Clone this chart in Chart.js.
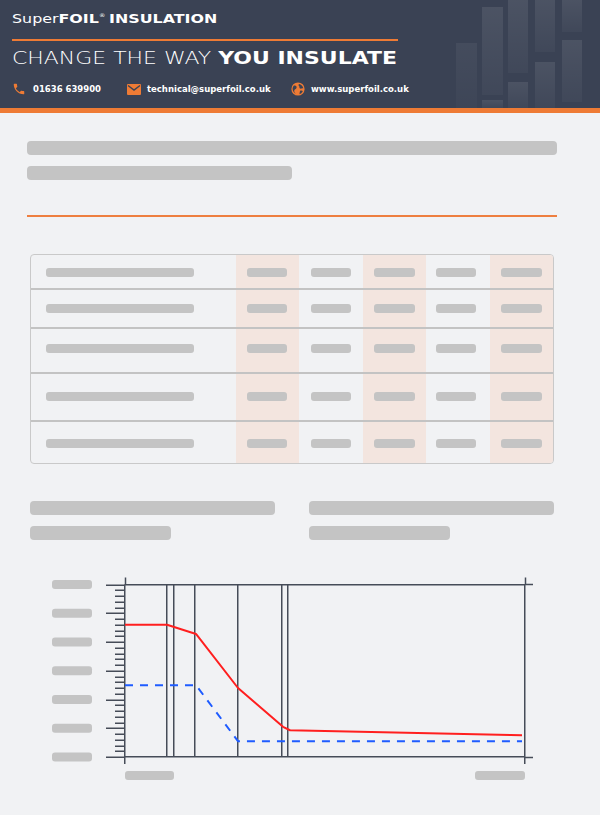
<!DOCTYPE html>
<html>
<head>
<meta charset="utf-8">
<script src="https://cdn.jsdelivr.net/npm/chart.js@4.4.0/dist/chart.umd.min.js"></script>
<style>
  html, body { margin: 0; padding: 0; }
  body {
    width: 600px; height: 815px; overflow: hidden; position: relative;
    background: #f1f2f4; font-family: "DejaVu Sans", sans-serif;
  }
  .header { position: absolute; left: 0; top: 0; width: 600px; height: 108px; background: #3a4254; overflow: hidden; }
  .stripe { position: absolute; left: 0; top: 108px; width: 600px; height: 5px; background: #ee7b35; }
  .deco { position: absolute; background: linear-gradient(rgba(255,255,255,0.09), rgba(255,255,255,0.03)); }
  .logo { position: absolute; left: 12px; top: 11px; color: #fff; font-size: 12.5px; white-space: nowrap; transform: scaleX(1.27); transform-origin: left top; }
  .logo .light { font-weight: 400; }
  .logo .bold { font-weight: 700; }
  .logo sup { font-size: 5px; vertical-align: 6px; margin-right: 3px; }
  .rule { position: absolute; left: 12px; top: 39px; width: 386px; height: 1.5px; background: #ee7b35; }
  .tagline { position: absolute; left: 12px; top: 47px; color: #fff; font-size: 18px; white-space: nowrap; transform: scaleX(1.22); transform-origin: left top; }
  .tagline .thin { font-weight: 200; }
  .tagline .heavy { font-weight: 700; }
  .contact { position: absolute; top: 83.5px; color: #fff; font-size: 8.5px; font-weight: 700; white-space: nowrap; }
  .icon { position: absolute; }
  .pill { position: absolute; background: #c4c4c4; border-radius: 4px; }
  .orange-line { position: absolute; left: 27px; top: 215px; width: 530px; height: 2px; background: #ee7f40; }
  .table { position: absolute; left: 30px; top: 254px; width: 522px; height: 208px; border: 1.5px solid #c9c9c9; border-radius: 4px; overflow: hidden; }
  .shade { position: absolute; top: 0; height: 100%; background: #f3e5df; }
  .row-line { position: absolute; left: 0; width: 100%; height: 1.5px; background: #c3c3c3; }
  .chart-box { position: absolute; left: 30px; top: 565px; width: 520px; height: 225px; }
</style>
</head>
<body>
<div class="header">
  <div class="deco" style="left:456px;top:43px;width:21px;height:65px;opacity:0.6"></div>
  <div class="deco" style="left:482px;top:7px;width:21px;height:88px"></div>
  <div class="deco" style="left:482px;top:100px;width:21px;height:8px"></div>
  <div class="deco" style="left:508px;top:0;width:20px;height:73px"></div>
  <div class="deco" style="left:508px;top:82px;width:20px;height:26px"></div>
  <div class="deco" style="left:535px;top:0;width:20px;height:52px"></div>
  <div class="deco" style="left:535px;top:62px;width:20px;height:46px"></div>
  <div class="deco" style="left:562px;top:0;width:20px;height:32px"></div>
  <div class="deco" style="left:562px;top:40px;width:20px;height:62px"></div>

  <div class="logo"><span class="light">Super</span><span class="bold">FOIL</span><sup>®</sup><span class="bold">INSULATION</span></div>
  <div class="rule"></div>
  <div class="tagline"><span class="thin">CHANGE THE WAY </span><span class="heavy">YOU INSULATE</span></div>

  <svg class="icon" style="left:12px;top:82px" width="14" height="14" viewBox="0 0 24 24">
    <path fill="#ee7b35" d="M6.6 10.8c1.4 2.8 3.8 5.1 6.6 6.6l2.2-2.2c.3-.3.7-.4 1-.2 1.1.4 2.3.6 3.6.6.6 0 1 .4 1 1V20c0 .6-.4 1-1 1C10.6 21 3 13.4 3 4c0-.6.4-1 1-1h3.5c.6 0 1 .4 1 1 0 1.3.2 2.5.6 3.6.1.3 0 .7-.2 1l-2.3 2.2z"/>
  </svg>
  <div class="contact" style="left:33px">01636 639900</div>

  <svg class="icon" style="left:127px;top:84px" width="14" height="11" viewBox="0 0 14 11">
    <rect x="0" y="0" width="14" height="11" rx="1" fill="#ee7b35"/>
    <path d="M1 1.5 L7 6 L13 1.5" stroke="#3a4254" stroke-width="1.4" fill="none"/>
  </svg>
  <div class="contact" style="left:147px">technical@superfoil.co.uk</div>

  <svg class="icon" style="left:291px;top:82px" width="14" height="14" viewBox="0 0 14 14">
    <circle cx="7" cy="7" r="6.6" fill="#ee7b35"/>
    <path d="M3 3.5 C5 3 6 4.5 5.5 6 C5 7.5 3.5 7 3.2 8.8 C3 10 4 11 5 11.6 C3 11 1.5 9 1.6 6.5 C1.8 5 2.3 4.2 3 3.5 Z" fill="#3a4254"/>
    <path d="M8 2 C10 2.5 12 4 12.3 6.5 C11 6 10 7 9 6.5 C8 6 8.8 4.5 8 4 C7.3 3.6 7.5 2.6 8 2 Z" fill="#3a4254"/>
    <path d="M9.5 8.5 C10.5 8.2 11.5 8.5 11.8 9.2 C11 10.8 9.8 11.8 8.5 12.2 C8.6 10.8 8.8 9 9.5 8.5 Z" fill="#3a4254"/>
  </svg>
  <div class="contact" style="left:311px">www.superfoil.co.uk</div>
</div>
<div class="stripe"></div>

<div class="pill" style="left:27px;top:141px;width:530px;height:14px"></div>
<div class="pill" style="left:27px;top:166px;width:265px;height:14px"></div>
<div class="orange-line"></div>

<div class="table" id="table"></div>

<div class="pill" style="left:30px;top:501px;width:245px;height:14px"></div>
<div class="pill" style="left:309px;top:501px;width:245px;height:14px"></div>
<div class="pill" style="left:30px;top:526px;width:141px;height:14px"></div>
<div class="pill" style="left:309px;top:526px;width:141px;height:14px"></div>

<div class="chart-box"><canvas id="chart"></canvas></div>

<script>
// chart values (x positions on a 0-400 scale, y on a 0-6 scale)
const xBreaks = [0, 42, 49, 70, 113, 157, 163, 400];
const redX = [0, 42, 71, 113, 158, 165, 397];
const redY = [4.6, 4.6, 4.28, 2.4, 1.05, 0.93, 0.76];
const blueX = [0, 71, 113, 397];
const blueY = [2.5, 2.5, 0.55, 0.55];
const yMajor = [0, 1, 2, 3, 4, 5, 6];
const yEnds = [0, 6];

const AXIS = "#464c58";
const PILL = "#c4c4c4";

// table skeleton
const table = document.getElementById("table");
const shades = [[205, 63], [332, 63], [459, 64]];
const rowLines = [33, 72, 117, 165];
const rowMid = [17, 53, 93, 141, 188];
const cellPills = [[15, 148], [216, 40], [280, 40], [343, 41], [405, 40], [470, 41]];
shades.forEach(([l, w]) => {
  const d = document.createElement("div");
  d.className = "shade"; d.style.left = l + "px"; d.style.width = w + "px";
  table.appendChild(d);
});
rowLines.forEach((t) => {
  const d = document.createElement("div");
  d.className = "row-line"; d.style.top = t + "px";
  table.appendChild(d);
});
rowMid.forEach((m) => {
  cellPills.forEach(([l, w]) => {
    const d = document.createElement("div");
    d.className = "pill";
    d.style.cssText = `left:${l}px;top:${m - 4.5}px;width:${w}px;height:9px;border-radius:3px`;
    table.appendChild(d);
  });
});

function isMajor(v) {
  return Math.abs(v - Math.round(v)) < 1e-6;
}

function pill(ctx, x, y, w, h) {
  ctx.beginPath();
  ctx.roundRect(x, y, w, h, 3);
  ctx.fill();
}

const axisDecor = {
  id: "axisDecor",
  afterDraw(chart) {
    const { ctx, chartArea: a, scales } = chart;
    const x = scales.x, y = scales.y;
    ctx.save();
    ctx.strokeStyle = AXIS;
    ctx.lineWidth = 1.5;
    y.ticks.forEach((t) => {
      const py = Math.round(y.getPixelForValue(t.value)) + 0.25;
      const len = isMajor(t.value) ? 19 : 10;
      ctx.beginPath();
      ctx.moveTo(a.left - len, py);
      ctx.lineTo(a.left, py);
      ctx.stroke();
    });
    ctx.fillStyle = PILL;
    yMajor.forEach((v) => {
      const py = y.getPixelForValue(v);
      pill(ctx, a.left - 73, py - 4.5, 40, 9);
    });
    const x0 = x.getPixelForValue(x.min);
    const x1 = x.getPixelForValue(x.max);
    pill(ctx, x0, a.bottom + 14, 49, 9);
    pill(ctx, x1 - 50, a.bottom + 14, 50, 9);
    ctx.restore();
  },
};

const endTick = (c) => (c.tick && (c.tick.value === 0 || c.tick.value === 400) ? AXIS : "rgba(0,0,0,0)");
const edgeLine = (c) => (c.tick && (c.tick.value === 0 || c.tick.value === 6) ? AXIS : "rgba(0,0,0,0)");

new Chart(document.getElementById("chart"), {
  type: "line",
  data: {
    datasets: [
      {
        data: redX.map((v, i) => ({ x: v, y: redY[i] })),
        borderColor: "#ff1f1f",
        borderWidth: 2,
        pointRadius: 0,
        tension: 0,
        borderJoinStyle: "round",
      },
      {
        data: blueX.map((v, i) => ({ x: v, y: blueY[i] })),
        borderColor: "#1f5cff",
        borderWidth: 2,
        borderDash: [8, 7],
        pointRadius: 0,
        tension: 0,
      },
    ],
  },
  options: {
    responsive: true,
    maintainAspectRatio: false,
    animation: false,
    plugins: { legend: { display: false }, tooltip: { enabled: false } },
    layout: { padding: 0 },
    scales: {
      x: {
        type: "linear",
        position: "bottom",
        min: 0,
        max: 400,
        afterBuildTicks: (s) => { s.ticks = xBreaks.map((v) => ({ value: v })); },
        afterFit: (s) => { s.height = 33; },
        ticks: { display: false },
        border: { display: false },
        grid: { color: AXIS, lineWidth: 1.5, tickLength: 7, tickColor: endTick, tickWidth: 1.5 },
      },
      x2: {
        type: "linear",
        position: "top",
        min: 0,
        max: 400,
        afterBuildTicks: (s) => { s.ticks = xBreaks.map((v) => ({ value: v })); },
        afterFit: (s) => { s.height = 19.5; },
        ticks: { display: false },
        border: { display: false },
        grid: { drawOnChartArea: false, tickLength: 7, tickColor: endTick, tickWidth: 1.5 },
      },
      y: {
        type: "linear",
        position: "left",
        min: 0,
        max: 6,
        ticks: { display: false, stepSize: 0.2, maxTicksLimit: 100 },
        afterFit: (s) => { s.width = 95; },
        border: { display: false },
        grid: { color: edgeLine, lineWidth: 1.5, drawTicks: false },
      },
      y2: {
        type: "linear",
        position: "right",
        min: 0,
        max: 6,
        afterBuildTicks: (s) => { s.ticks = yEnds.map((v) => ({ value: v })); },
        afterFit: (s) => { s.width = 25; },
        ticks: { display: false },
        border: { display: false },
        grid: { drawOnChartArea: false, tickLength: 8, tickColor: AXIS, tickWidth: 1.5 },
      },
    },
  },
  plugins: [axisDecor],
});
</script>
</body>
</html>
